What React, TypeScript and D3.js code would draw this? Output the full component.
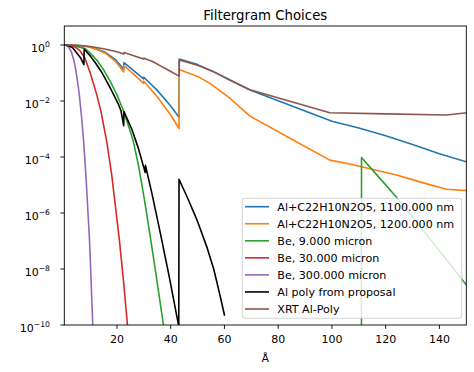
import React from 'react';
import * as d3 from 'd3';

const W = 474;
const H = 372;

// data: wavelength (Å) and log10(transmission)
const blueX = [0.4, 4, 7.8, 10, 12.5, 15.7, 19.4, 22.5, 22.6, 26, 29.9, 30, 35, 40, 43.1, 43.2, 50, 55.9, 62, 69.5, 100, 110, 120, 130, 140, 150];
const blueLog = [0, -0.005, -0.03, -0.07, -0.14, -0.26, -0.52, -0.86, -0.63, -0.9, -1.21, -1.15, -1.62, -2.18, -2.58, -0.5, -0.7, -0.95, -1.25, -1.61, -2.72, -2.96, -3.24, -3.55, -3.88, -4.17];

const orangeX = [0.4, 4, 7.8, 10, 12.5, 15.7, 19.4, 22.5, 22.6, 26, 29.9, 30, 35, 40, 43.1, 43.2, 50, 54.6, 62, 69.5, 84.4, 99.2, 106.7, 115, 124, 135, 142.6, 150];
const orangeLog = [0, -0.006, -0.035, -0.08, -0.16, -0.29, -0.58, -0.96, -0.73, -1.02, -1.37, -1.29, -1.85, -2.5, -2.98, -0.87, -1.12, -1.37, -1.9, -2.54, -3.33, -4.11, -4.25, -4.44, -4.64, -4.95, -5.15, -5.2];

const greenX = [0.4, 4, 8, 10, 12.6, 15, 17.5, 20, 22, 24, 26, 28, 30, 32, 34, 36, 37.3, 38.5, 45, 110.9, 111, 118, 124.6, 137, 150];
const greenLog = [0, -0.03, -0.12, -0.28, -0.55, -0.88, -1.3, -1.78, -2.25, -2.8, -3.4, -4.3, -5.4, -6.6, -7.85, -9.15, -10, -11, -18, -60, -4.02, -4.78, -5.5, -6.98, -8.57];

const redX = [0.4, 2, 4, 6, 8, 10, 12.5, 14, 16.2, 18, 20.9, 22.5, 23.9, 25];
const redLog = [0, -0.006, -0.05, -0.18, -0.45, -0.98, -1.78, -2.35, -3.45, -4.6, -6.96, -8.5, -10, -11.5];

const purpleX = [0.4, 1, 2, 3, 4, 4.6, 5, 6, 7, 7.6, 8.5, 9.8, 11, 11.5];
const purpleLog = [0, -0.01, -0.07, -0.24, -0.56, -0.85, -1.08, -1.78, -2.75, -3.45, -4.75, -7.0, -10, -11.4];

const blackX = [0.4, 2, 3.5, 4.6, 6.5, 7.7, 7.8, 10, 12, 14.5, 16.9, 18.8, 20.6, 21.5, 22.5, 22.6, 25.5, 28, 30.5, 30.6, 33, 36.1, 39.5, 43.0, 43.1, 46, 50, 53.4, 56, 58, 60];
const blackLog = [0, -0.02, -0.1, -0.23, -0.46, -0.7, -0.14, -0.38, -0.64, -1.0, -1.42, -1.78, -2.13, -2.35, -2.88, -2.38, -3.0, -3.7, -4.55, -4.3, -5.3, -6.7, -8.3, -10.05, -4.8, -5.4, -6.3, -7.2, -8.0, -8.8, -9.64];

const brownX = [0.4, 5, 10, 15, 20, 22.5, 22.6, 26, 29.9, 30, 33, 35, 39.7, 43.1, 43.2, 50, 55.9, 62, 69.5, 99.2, 120, 142.6, 150];
const brownLog = [0, -0.01, -0.05, -0.13, -0.24, -0.32, -0.27, -0.37, -0.5, -0.47, -0.58, -0.68, -0.93, -1.11, -0.53, -0.72, -0.95, -1.25, -1.6, -2.42, -2.46, -2.5, -2.42];

const seriesNames = [
  'Al+C22H10N2O5, 1100.000 nm',
  'Al+C22H10N2O5, 1200.000 nm',
  'Be, 9.000 micron',
  'Be, 30.000 micron',
  'Be, 300.000 micron',
  'Al poly from proposal',
  'XRT Al-Poly',
];
const seriesColors = ['#1f77b4', '#ff7f0e', '#2ca02c', '#d62728', '#9467bd', '#000000', '#8c564b'];
const seriesX = [blueX, orangeX, greenX, redX, purpleX, blackX, brownX];
const seriesLog = [blueLog, orangeLog, greenLog, redLog, purpleLog, blackLog, brownLog];

const xTicks = [20, 40, 60, 80, 100, 120, 140];
const yTickExps = [0, -2, -4, -6, -8, -10];

const FONT = 'DejaVu Sans, sans-serif';

export default function App() {
  const left = 64.3, right = 466.3, top = 26, bottom = 325;
  const x = d3.scaleLinear().domain([0.4, 150]).range([left, right]);
  const y = d3.scaleLog().domain([1e-10, Math.pow(10, 0.68)]).range([bottom, top]);
  const line = d3
    .line<[number, number]>()
    .x((d) => x(d[0]))
    .y((d) => y(Math.pow(10, d[1])));

  const paths = seriesX.map((xs, i) =>
    line(xs.map((v, j) => [v, seriesLog[i][j]] as [number, number]))
  );

  const lg = { x: 242.3, y: 198.3, w: 219.4, h: 120, row0: 206.7, dy: 17.05 };

  return (
    <svg width={W} height={H} style={{ position: 'absolute', left: 0, top: 0, background: '#fff' }} fontFamily={FONT}>
      <rect x={0} y={0} width={W} height={H} fill="#fff" />
      <defs>
        <clipPath id="plotclip">
          <rect x={left} y={top} width={right - left} height={bottom - top} />
        </clipPath>
      </defs>
      <text x={(left + right) / 2} y={20} textAnchor="middle" fontSize={13.3} fill="#000">
        Filtergram Choices
      </text>
      <g clipPath="url(#plotclip)">
        {paths.map((p, i) => (
          <path key={i} d={p || ''} fill="none" stroke={seriesColors[i]} strokeWidth={1.6} strokeLinejoin="round" strokeLinecap="square" />
        ))}
      </g>
      <rect x={left} y={top} width={right - left} height={bottom - top} fill="none" stroke="#000" strokeWidth={0.9} />
      {xTicks.map((t) => (
        <g key={t}>
          <line x1={x(t)} x2={x(t)} y1={bottom} y2={bottom + 3.9} stroke="#000" strokeWidth={0.9} />
          <text x={x(t)} y={343.3} textAnchor="middle" fontSize={11} fill="#000">
            {t}
          </text>
        </g>
      ))}
      {yTickExps.map((e) => (
        <g key={e}>
          <line x1={left - 3.9} x2={left} y1={y(Math.pow(10, e))} y2={y(Math.pow(10, e))} stroke="#000" strokeWidth={0.9} />
          <text x={50} y={y(Math.pow(10, e)) + 6.7} textAnchor="end" fontSize={11} fill="#000">
            10
            <tspan fontSize={7.7} dy={-5}>
              {e === 0 ? '0' : '\u2212' + Math.abs(e)}
            </tspan>
          </text>
        </g>
      ))}
      <text x={(left + right) / 2} y={361.5} textAnchor="middle" fontSize={11} fill="#000">
        Å
      </text>
      <rect x={lg.x} y={lg.y} width={lg.w} height={lg.h} rx={2.5} fill="#fff" fillOpacity={0.8} stroke="#ccc" strokeOpacity={0.8} strokeWidth={1.1} />
      {seriesNames.map((n, i) => (
        <g key={n}>
          <line x1={245} x2={269} y1={lg.row0 + i * lg.dy} y2={lg.row0 + i * lg.dy} stroke={seriesColors[i]} strokeWidth={1.6} />
          <text x={277.3} y={lg.row0 + i * lg.dy + 4.2} fontSize={11.1} fill="#000">
            {n}
          </text>
        </g>
      ))}
    </svg>
  );
}
